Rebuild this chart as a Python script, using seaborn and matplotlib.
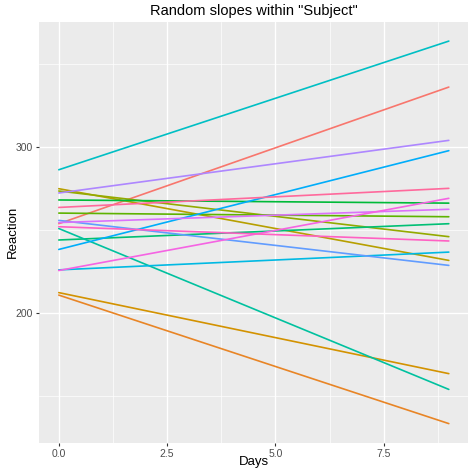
import numpy as np
import pandas as pd
import matplotlib
matplotlib.use("Agg")
import matplotlib.pyplot as plt
import seaborn as sns
from matplotlib.ticker import FixedLocator

subjects = ["308", "309", "310", "330", "331", "332", "333", "334", "335",
            "337", "349", "350", "351", "352", "369", "370", "371", "372"]
start_reaction = [254.0, 211.0, 212.5, 275.1, 273.7, 260.4, 268.3, 244.2, 251.1,
                  286.5, 226.2, 238.5, 256.0, 272.5, 254.7, 225.8, 252.2, 263.8]
end_reaction = [336.3, 133.6, 163.7, 231.9, 246.2, 258.2, 266.4, 254.0, 154.2,
                364.0, 236.9, 298.0, 228.9, 304.2, 262.7, 269.3, 243.6, 275.3]
days_range = [0, 9]
palette = ["#F8766D", "#E88526", "#D39200", "#B79F00", "#93AA00", "#5EB300",
           "#00BA38", "#00BF74", "#00C19F", "#00BFC4", "#00B9E3", "#00ADFA",
           "#619CFF", "#AE87FF", "#DB72FB", "#F564E3", "#FF61C3", "#FF699C"]

rows = []
for s, a, b in zip(subjects, start_reaction, end_reaction):
    rows.append({"Subject": s, "Days": days_range[0], "Reaction": a})
    rows.append({"Subject": s, "Days": days_range[1], "Reaction": b})
df = pd.DataFrame(rows)

sns.set_theme(style="darkgrid")
plt.rcParams["font.family"] = ["Liberation Sans", "DejaVu Sans"]

fig = plt.figure(figsize=(4.74, 4.74), dpi=100)
ax = fig.add_axes([39.3 / 474, 1 - 442.7 / 474, (468.3 - 39.3) / 474, (442.7 - 22) / 474])
ax.set_facecolor("#EBEBEB")

sns.lineplot(data=df, x="Days", y="Reaction", hue="Subject", palette=palette,
             legend=False, ax=ax, linewidth=1.2, estimator=None)

ax.set_xlim(-0.45, 9.45)
ax.set_ylim(122.1, 375.5)
ax.xaxis.set_major_locator(FixedLocator([0, 2.5, 5, 7.5]))
ax.xaxis.set_minor_locator(FixedLocator([1.25, 3.75, 6.25, 8.75]))
ax.yaxis.set_major_locator(FixedLocator([200, 300]))
ax.yaxis.set_minor_locator(FixedLocator([150, 250, 350]))
ax.set_xticklabels(["0.0", "2.5", "5.0", "7.5"])
ax.set_yticklabels(["200", "300"])
ax.grid(which="major", color="white", linewidth=1.0)
ax.grid(which="minor", color="white", linewidth=0.5)
ax.set_axisbelow(True)
for sp in ax.spines.values():
    sp.set_visible(False)
ax.tick_params(which="major", length=2.5, width=0.8, color="#333333",
               labelsize=7.5, labelcolor="#4D4D4D", pad=2, bottom=True, left=True)
ax.tick_params(which="minor", length=0)

ax.set_xlabel("Days", fontsize=9.5, color="black", va="center")
ax.set_ylabel("Reaction", fontsize=9.5, color="black", va="center")
ax.xaxis.set_label_coords(0.5, -0.046)
ax.yaxis.set_label_coords(-0.062, 0.5)
ax.set_title('Random slopes within "Subject"', fontsize=10.5, color="black", pad=5)

fig.savefig("out.png", dpi=100, facecolor="white")
